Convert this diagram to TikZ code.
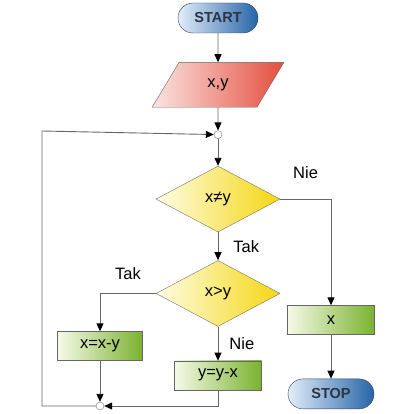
\documentclass[tikz,border=0pt]{standalone}
\usepackage{fontspec}
\setmainfont{Liberation Sans}
\usetikzlibrary{shapes,arrows.meta,positioning}

\definecolor{pillL}{RGB}{226,237,249}
\definecolor{pillR}{RGB}{38,100,168}
\definecolor{pillD}{RGB}{55,65,85}
\definecolor{ioL}{RGB}{251,228,225}
\definecolor{ioR}{RGB}{228,78,62}
\definecolor{decL}{RGB}{255,253,228}
\definecolor{decR}{RGB}{244,214,18}
\definecolor{opL}{RGB}{246,250,232}
\definecolor{opR}{RGB}{122,178,48}

\begin{document}
\begin{tikzpicture}[x=1pt,y=-1pt,
        startend/.style={rectangle, draw=pillD, rounded corners=15pt, minimum width=80pt, minimum height=30pt, inner sep=0pt, font=\fontsize{14.5}{17}\selectfont\bfseries, text=pillD!80!black, left color=pillL, right color=pillR},
        iobox/.style={trapezium, trapezium left angle=59, trapezium right angle=121, draw=black!60, minimum width=132pt, minimum height=42pt, inner sep=0pt, font=\fontsize{16.5}{19}\selectfont, left color=ioL, right color=ioR},
        decision/.style={diamond, draw=black!55, minimum width=124pt, minimum height=66pt, inner sep=0pt, font=\fontsize{16.5}{19}\selectfont, left color=decL, right color=decR},
        box/.style={rectangle, draw=black!60, minimum width=87pt, minimum height=29pt, inner sep=0pt, font=\fontsize{16.5}{19}\selectfont, left color=opL, right color=opR},
        junction/.style={circle, draw=black!55, fill=white, minimum size=8pt, inner sep=0pt},
        arrow/.style={-{Triangle[length=8pt,width=7pt,color=black]}, draw=black!60, line width=0.9pt},
        lbl/.style={font=\fontsize{16.5}{19}\selectfont, inner sep=2pt},
      ]
      \useasboundingbox (0,0) rectangle (408,414);
      % main column
      \node [startend] (start) at (218,18) {START};
      \node [iobox, below=29pt of start] (in) {x,y};
      \node [junction, below=23pt of in] (c1) {};
      \node [decision, below=27pt of c1] (neq) {x≠y};
      \node [decision, below=28pt of neq] (gt) {x>y};
      \node [box, below=34pt of gt] (suby) {y=y-x};
      % side branches
      \node [box, minimum width=85pt] (subx) at (100,346) {x=x-y};
      \node [box] (outx) at (331,320) {x};
      \node [startend, minimum width=86pt, below=44pt of outx] (stop) {STOP};
      \node [junction] (c2) at (100,406) {};
      \coordinate (loop) at (42,131);
      \draw [arrow] (start) -- (in);
      \draw [arrow] (in) -- (c1);
      \draw [arrow] (c1) -- (neq);
      \draw [arrow] (neq.east) -| node [lbl, pos=0.25, above=18pt] {Nie} (outx);
      \draw [arrow] (neq) -- node [lbl, right=13pt] {Tak} (gt);
      \draw [arrow] (gt.west) -| node [lbl, pos=0.25, above=11pt] {Tak} (subx);
      \draw [arrow] (gt) -- node [lbl, right=9pt] {Nie} (suby);
      \draw [arrow] (subx) -- (c2);
      \draw [arrow] (suby) |- (c2);
      \draw [arrow] (c2) -| (loop) -- (c1);
      \draw [arrow] (outx) -- (stop);
    \end{tikzpicture}
\end{document}
